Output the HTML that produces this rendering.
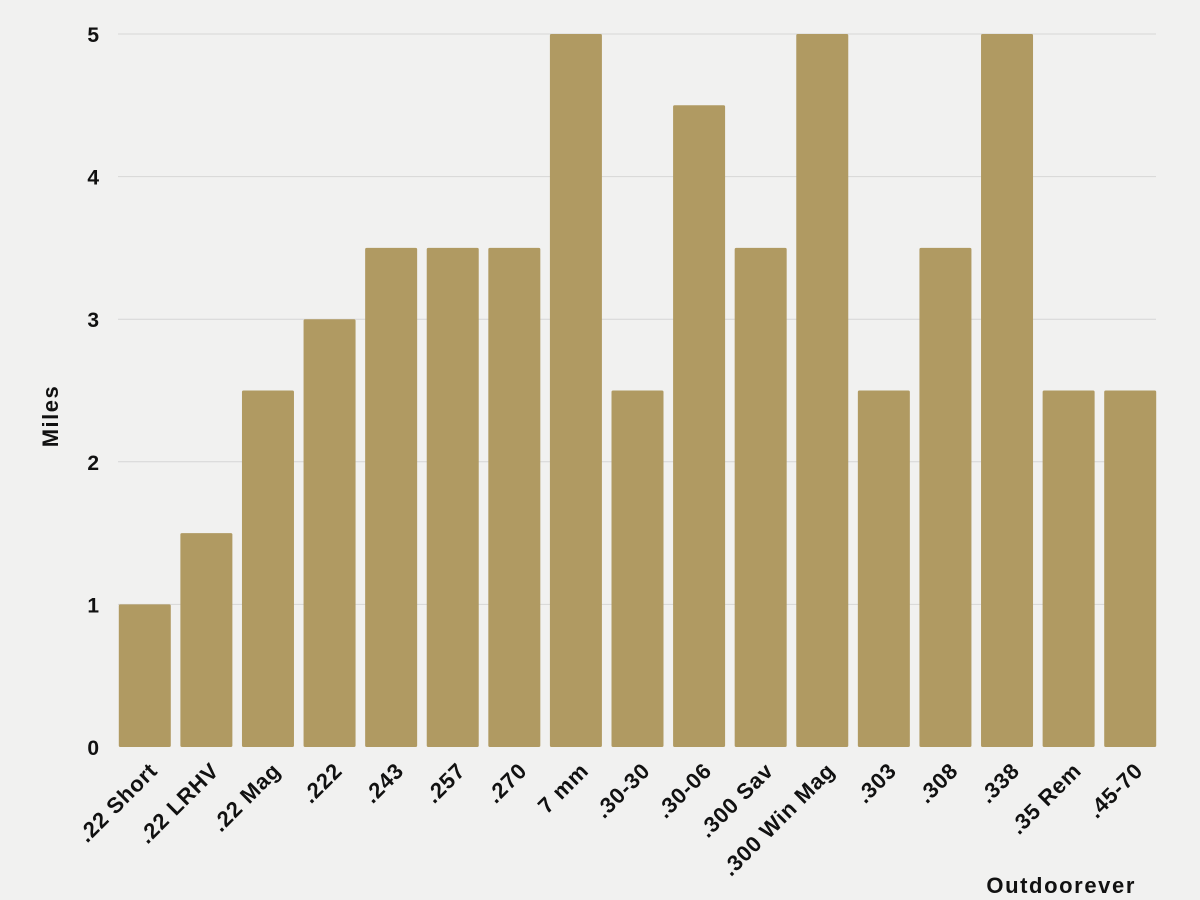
<!DOCTYPE html>
<html><head><meta charset="utf-8"><style>
html,body{margin:0;padding:0;background:#f1f1f0;}
svg{display:block;font-family:"Liberation Sans",sans-serif;}
</style></head><body>
<svg id="chart" width="1200" height="900" viewBox="0 0 1200 900">
<rect x="0" y="0" width="1200" height="900" fill="#f1f1f0"/>
<g id="grid"></g><g id="bars"></g><g id="yticks"></g><g id="xlabels"></g>
<text x="58" y="416" transform="rotate(-90 58 416)" text-anchor="middle" font-size="22" font-weight="bold" letter-spacing="1.5" fill="#111">Miles</text>
<text x="1136" y="893" text-anchor="end" font-size="22" font-weight="bold" letter-spacing="1.6" fill="#111">Outdoorever</text>
</svg>
<script>
const categories=[".22 Short",".22 LRHV",".22 Mag",".222",".243",".257",".270","7 mm",".30-30",".30-06",".300 Sav",".300 Win Mag",".303",".308",".338",".35 Rem",".45-70"];
const miles=[1,1.5,2.5,3,3.5,3.5,3.5,5,2.5,4.5,3.5,5,2.5,3.5,5,2.5,2.5];
const yTicks=[0,1,2,3,4,5];
const NS="http://www.w3.org/2000/svg";
const x0=114,x1=1161,yBase=747,yTop=34,yMax=5,gx0=118,gx1=1156;
const slot=(x1-x0)/categories.length,bw=52;
const y=v=>yBase-(yBase-yTop)*v/yMax;
const xc=i=>x0+slot*i+slot/2;
function mk(t,a,p){const e=document.createElementNS(NS,t);for(const k in a)e.setAttribute(k,a[k]);p.appendChild(e);return e;}
const grid=document.getElementById('grid'),yt=document.getElementById('yticks');
yTicks.forEach(v=>{
 if(v>0){const l=mk('line',{x1:gx0,x2:gx1,y1:y(v),y2:y(v),stroke:'#d6d6d6','stroke-width':1},grid);
 
 }
 const t=mk('text',{x:99,y:y(v)+8,'text-anchor':'end','font-size':21,'font-weight':'bold',fill:'#111'},yt);
 t.textContent=v;
 
 
});
const bars=document.getElementById('bars'),xl=document.getElementById('xlabels');
categories.forEach((c,i)=>{
 const r=mk('rect',{x:xc(i)-bw/2,y:y(miles[i]),width:bw,height:yBase-y(miles[i]),fill:'#b09a62',rx:1.5},bars);
 
 
 const tx=xc(i)+14,ty=772;
 const t=mk('text',{x:tx,y:ty,'text-anchor':'end','font-size':22,'font-weight':'bold',fill:'#111','letter-spacing':0.8,transform:`rotate(-45 ${tx} ${ty})`},xl);
 t.textContent=c;
 
 
});
</script>
</body></html>
